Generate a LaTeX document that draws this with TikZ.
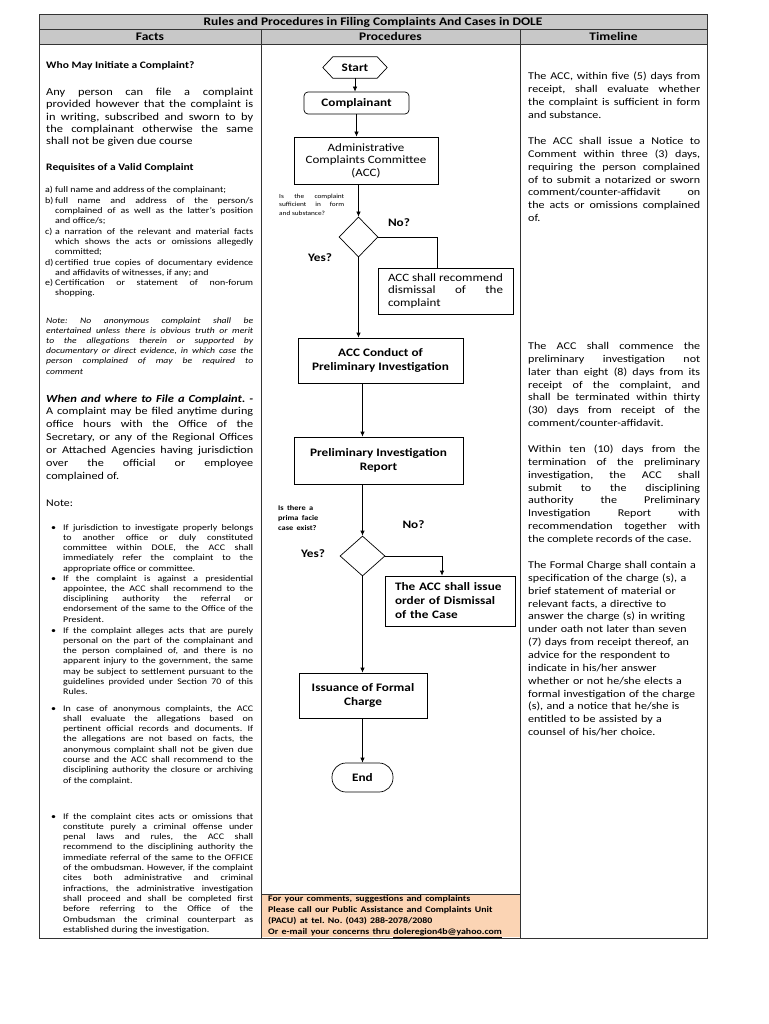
\documentclass[tikz,border=0pt]{standalone}
\usepackage{fontspec}
\setmainfont{Carlito}[FakeStretch=1.16]
\usetikzlibrary{arrows.meta,shapes.geometric}
\definecolor{hdrgray}{RGB}{200,200,200}
\definecolor{peach}{RGB}{251,212,180}
\setlength{\parindent}{0pt}
\frenchspacing
\tolerance=10000 \hbadness=10000 \hfuzz=20pt \hyphenpenalty=10000 \exhyphenpenalty=10000
\newcommand\dlMain{\fontsize{10.7}{12.3}\selectfont\parindent=0pt }
\newcommand\dlTL{\fontsize{10.4}{12.85}\selectfont\parindent=0pt }
\newcommand\dlWhen{\fontsize{10.5}{12.9}\selectfont\parindent=0pt }
\newcommand\dlSmall{\fontsize{8.6}{10.3}\selectfont\parindent=0pt }
\newcommand\dlHd{\fontsize{9.9}{12}\selectfont\bfseries}
\newcommand\dlHead{\fontsize{11.6}{13}\selectfont\bfseries}
\newcommand\dlBox{\fontsize{11.4}{14}\selectfont\bfseries}
\newcommand\dlBoxR{\fontsize{11.2}{12.4}\selectfont\parindent=0pt }
\newcommand\dlFoot{\fontsize{8.5}{11}\selectfont\bfseries\parindent=0pt }
\newcommand\dlTiny{\fontsize{6.3}{8.5}\selectfont\parindent=0pt }
\newcommand\dlQ{\fontsize{7.2}{10}\selectfont\bfseries\parindent=0pt }
\newcommand\dlItem[2]{\hangindent=#1\hangafter=1\leavevmode\makebox[#1][l]{#2}}
\begin{document}
\begin{tikzpicture}[x=1pt,y=-1pt,
  tb/.style={inner sep=0pt, anchor=base west},
  tj/.style={inner sep=0pt, anchor=base west, align=justify},
  box/.style={draw=black, line width=0.7pt, inner sep=0pt, align=center, font=\dlBox},
  boxj/.style={draw=black, line width=0.7pt, inner sep=0pt, align=justify},
  arr/.style={-{Latex[length=5pt,width=4.5pt]}, line width=0.7pt},
  con/.style={line width=0.7pt},
  grid/.style={draw=black!80, line width=0.7pt},
  lbl/.style={inner sep=0pt}]
\useasboundingbox (0,0) rectangle (768,1024);
\fill[white] (0,0) rectangle (768,1024);
% table
\fill[hdrgray] (39,14) rectangle (707,44);
\fill[peach] (261,894) rectangle (520,937);
\draw[grid] (39,14) rectangle (707,938);
\draw[grid] (39,29) -- (707,29);
\draw[grid] (39,44) -- (707,44);
\draw[grid] (261,29) -- (261,938);
\draw[grid] (520,29) -- (520,938);
\draw[grid] (261,894) -- (520,894);
% headers
\node[lbl, anchor=base, font=\dlHead] (title) at (373,25.5) {Rules and Procedures in Filing Complaints And Cases in DOLE};
\node[lbl, anchor=base, font=\dlHead] (hfacts) at (150,40.5) {Facts};
\node[lbl, anchor=base, font=\dlHead] (hproc) at (390.5,40.5) {Procedures};
\node[lbl, anchor=base, font=\dlHead] (htime) at (613.5,40.5) {Timeline};
% ---------------- Facts column
\node[tb, font=\dlHd] (who) at (46,69) {Who May Initiate a Complaint?};
\node[tj, text width=207pt] (any) at (46,95.5) {\dlMain Any person can file a complaint\linebreak provided however that the complaint is\linebreak in writing, subscribed and sworn to by\linebreak the complainant otherwise the same\linebreak shall not be given due course\par};
\node[tb, font=\dlHd] (req) at (46,170.5) {Requisites of a Valid Complaint};
\node[tj, text width=208pt] (reqlist) at (45,193) {\dlSmall\dlItem{10pt}{a)}full name and address of the complainant;\par
\dlItem{10pt}{b)}full name and address of the person/s\linebreak complained of as well as the latter's position\linebreak and office/s;\par
\dlItem{10pt}{c)}a narration of the relevant and material facts\linebreak which shows the acts or omissions allegedly\linebreak committed;\par
\dlItem{10pt}{d)}certified true copies of documentary evidence\linebreak and affidavits of witnesses, if any; and\par
\dlItem{10pt}{e)}Certification or statement of non-forum\linebreak shopping.\par};
\node[tj, text width=207pt] (note1) at (46,323) {\fontsize{8.3}{10.2}\selectfont\itshape Note: No anonymous complaint shall be\linebreak entertained unless there is obvious truth or merit\linebreak to the allegations therein or supported by\linebreak documentary or direct evidence, in which case the\linebreak person complained of may be required to\linebreak comment\par};
\node[tj, text width=207pt] (when) at (46,402) {\dlWhen{\fontsize{10.8}{12.9}\selectfont\bfseries\itshape When and where to File a Complaint. -}\linebreak A complaint may be filed anytime during\linebreak office hours with the Office of the\linebreak Secretary, or any of the Regional Offices\linebreak or Attached Agencies having jurisdiction\linebreak over the official or employee\linebreak complained of.\par};
\node[tb, font={\fontsize{10.2}{12}\selectfont}] (note2) at (46,506.5) {Note:};
\node[tj, text width=202pt] (b1) at (51,530) {\dlSmall\dlItem{12pt}{\textbullet}If jurisdiction to investigate properly belongs\linebreak to another office or duly constituted\linebreak committee within DOLE, the ACC shall\linebreak immediately refer the complaint to the\linebreak appropriate office or committee.\par};
\node[tj, text width=202pt] (b2) at (51,581) {\dlSmall\dlItem{12pt}{\textbullet}If the complaint is against a presidential\linebreak appointee, the ACC shall recommend to the\linebreak disciplining authority the referral or\linebreak endorsement of the same to the Office of the\linebreak President.\par};
\node[tj, text width=202pt] (b3) at (51,633) {\dlSmall\dlItem{12pt}{\textbullet}If the complaint alleges acts that are purely\linebreak personal on the part of the complainant and\linebreak the person complained of, and there is no\linebreak apparent injury to the government, the same\linebreak may be subject to settlement pursuant to the\linebreak guidelines provided under Section 70 of this\linebreak Rules.\par};
\node[tj, text width=202pt] (b4) at (51,711) {\dlSmall\dlItem{12pt}{\textbullet}In case of anonymous complaints, the ACC\linebreak shall evaluate the allegations based on\linebreak pertinent official records and documents. If\linebreak the allegations are not based on facts, the\linebreak anonymous complaint shall not be given due\linebreak course and the ACC shall recommend to the\linebreak disciplining authority the closure or archiving\linebreak of the complaint.\par};
\node[tj, text width=202pt] (b5) at (51,819) {\dlSmall\dlItem{12pt}{\textbullet}If the complaint cites acts or omissions that\linebreak constitute purely a criminal offense under\linebreak penal laws and rules, the ACC shall\linebreak recommend to the disciplining authority the\linebreak immediate referral of the same to the OFFICE\linebreak of the ombudsman. However, if the complaint\linebreak cites both administrative and criminal\linebreak infractions, the administrative investigation\linebreak shall proceed and shall be completed first\linebreak before referring to the Office of the\linebreak Ombudsman the criminal counterpart as\linebreak established during the investigation.\par};
% ---------------- Procedures column (flowchart)
\node[lbl, minimum width=64pt, minimum height=21pt, font=\dlBox] (start) at (355,67.5) {Start};
\draw[con] (start.west) -- ([xshift=10pt]start.north west) -- ([xshift=-10pt]start.north east) -- (start.east) -- ([xshift=-10pt]start.south east) -- ([xshift=10pt]start.south west) -- cycle;
\node[box, rounded corners=4pt, minimum width=105pt, minimum height=22pt] (compl) at (356.5,103) {Complainant};
\node[box, font=\dlBoxR, minimum width=144pt, minimum height=47pt] (acc) at (366,160.5) {Administrative\\Complaints Committee\\(ACC)};
\node[draw, diamond, line width=0.7pt, minimum width=39pt, minimum height=40pt, inner sep=0pt] (d1) at (358.5,237) {};
\node[boxj, minimum width=135pt, minimum height=46pt, text width=115pt] (dis1) at (445.5,291) {\dlBoxR ACC shall recommend\linebreak dismissal of the\linebreak complaint\par};
\node[box, minimum width=165pt, minimum height=45pt] (cond) at (380.5,360.5) {ACC Conduct of\\Preliminary Investigation};
\node[box, minimum width=169pt, minimum height=47pt] (pir) at (378.5,460.5) {Preliminary Investigation\\Report};
\node[draw, diamond, line width=0.7pt, minimum width=45pt, minimum height=40pt, inner sep=0pt] (d2) at (362.5,556) {};
\node[box, minimum width=130pt, minimum height=50pt, text width=110pt, align=left] (dis2) at (450,601) {The ACC shall issue\\order of Dismissal\\of the Case};
\node[box, minimum width=128pt, minimum height=45pt] (formal) at (363,695.5) {Issuance of Formal\\Charge};
\node[box, rounded corners=14pt, minimum width=61pt, minimum height=29pt] (endnode) at (362.5,777.5) {End};
\coordinate (dis1n) at ([xshift=-8.5pt]dis1.north);
\coordinate (dis2n) at ([xshift=-8pt]dis2.north);
% connectors
\draw[arr] (start.south) -- (start.south |- compl.north);
\draw[arr] (compl.south) -- (compl.south |- acc.north);
\draw[arr] (d1.north |- acc.south) -- (d1.north);
\draw[con] (d1.east) -| (dis1n);
\draw[arr] (d1.south) -- (d1.south |- cond.north);
\draw[arr] (cond.south -| d2.north) -- (pir.north -| d2.north);
\draw[arr] (pir.south -| d2.north) -- (d2.north);
\draw[arr] (d2.east) -| (dis2n);
\draw[arr] (d2.south) -- (d2.south |- formal.north);
\draw[arr] (formal.south -| endnode.north) -- (endnode.north);
% labels
\node[tj, text width=65pt] (q1) at (279,198.5) {\dlTiny Is the complaint\linebreak sufficient in form\linebreak and substance?\par};
\node[lbl, font=\dlBox] (no1) at (399,223) {No?};
\node[lbl, font=\dlBox] (yes1) at (320,257.5) {Yes?};
\node[tb, text width=50pt, align=left] (q2) at (278,510.5) {\dlQ Is there a\\prima facie\\case exist?\par};
\node[lbl, font=\dlBox] (no2) at (413.5,525) {No?};
\node[lbl, font=\dlBox] (yes2) at (313,553.5) {Yes?};
% footer
\node[tb, text width=250pt, align=left] (foot) at (268,901) {\dlFoot For your comments, suggestions and complaints\\Please call our Public Assistance and Complaints Unit\\(PACU) at tel. No. (043) 288-2078/2080\\Or e-mail your concerns thru \underline{doleregion4b@yahoo.com}\par};
% ---------------- Timeline column
\node[tj, text width=172pt] (tl1) at (528,79.5) {\dlTL The ACC, within five (5) days from\linebreak receipt, shall evaluate whether\linebreak the complaint is sufficient in form\linebreak and substance.\par};
\node[tj, text width=172pt] (tl2) at (528,144.5) {\dlTL The ACC shall issue a Notice to\linebreak Comment within three (3) days,\linebreak requiring the person complained\linebreak of to submit a notarized or sworn\linebreak comment/counter-affidavit on\linebreak the acts or omissions complained\linebreak of.\par};
\node[tj, text width=172pt] (tl3) at (528,349.5) {\dlTL The ACC shall commence the\linebreak preliminary investigation not\linebreak later than eight (8) days from its\linebreak receipt of the complaint, and\linebreak shall be terminated within thirty\linebreak (30) days from receipt of the\linebreak comment/counter-affidavit.\par};
\node[tj, text width=172pt] (tl4) at (528,452.5) {\dlTL Within ten (10) days from the\linebreak termination of the preliminary\linebreak investigation, the ACC shall\linebreak submit to the disciplining\linebreak authority the Preliminary\linebreak Investigation Report with\linebreak recommendation together with\linebreak the complete records of the case.\par};
\node[tb, text width=176pt, align=left] (tl5) at (528,568.5) {\dlTL The Formal Charge shall contain a\\specification of the charge (s), a\\brief statement of material or\\relevant facts, a directive to\\answer the charge (s) in writing\\under oath not later than seven\\(7) days from receipt thereof, an\\advice for the respondent to\\indicate in his/her answer\\whether or not he/she elects a\\formal investigation of the charge\\(s), and a notice that he/she is\\entitled to be assisted by a\\counsel of his/her choice.\par};
\end{tikzpicture}
\end{document}
